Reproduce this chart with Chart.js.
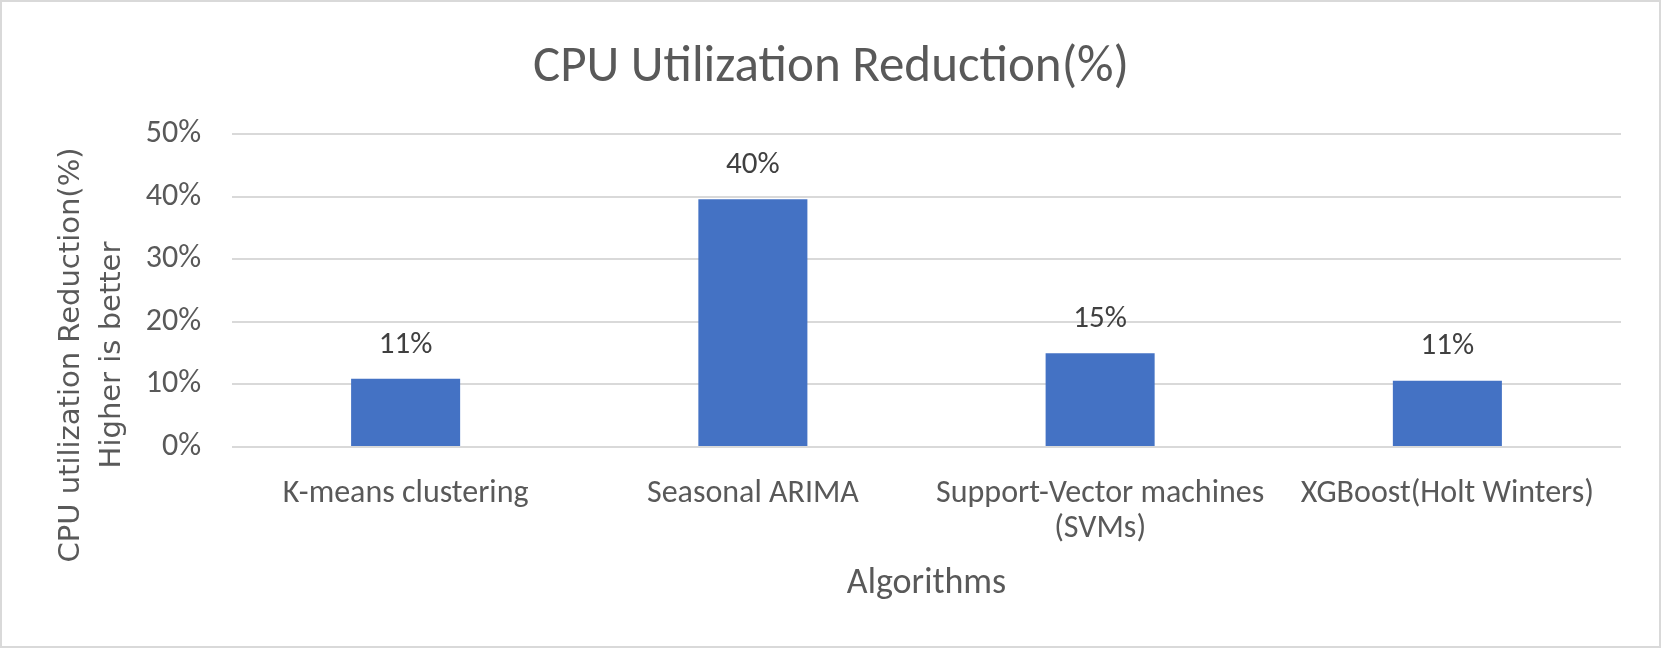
<!DOCTYPE html>
<html>
<head>
<meta charset="utf-8">
<script src="https://cdn.jsdelivr.net/npm/chart.js@4/dist/chart.umd.min.js"></script>
<style>
  html, body { margin: 0; padding: 0; background: #fff; }
  canvas { display: block; }
</style>
</head>
<body>
<canvas id="cpuChart" width="1662" height="650"></canvas>
<script>
// data (percent)
const algorithms = [
  'K-means clustering',
  'Seasonal ARIMA',
  ['Support-Vector machines', '(SVMs)'],
  'XGBoost(Holt Winters)'
];
const reduction = [10.9, 39.6, 15.0, 10.6];
const valueLabels = ['11%', '40%', '15%', '11%'];

const yTitleLines = ['CPU utilization Reduction(%)', 'Higher is better'];

const BAR_COLOR = '#4472C4';
const TEXT_COLOR = '#595959';
const GRID_COLOR = '#d9d9d9';
const FONT = "Carlito, Lato, 'Open Sans', sans-serif";

// white background + thin grey frame
const framePlugin = {
  id: 'frame',
  beforeDraw(chart) {
    const ctx = chart.ctx;
    ctx.save();
    ctx.fillStyle = '#fff';
    ctx.fillRect(0, 0, chart.width, chart.height);
    ctx.strokeStyle = GRID_COLOR;
    ctx.lineWidth = 2;
    ctx.strokeRect(1, 1, chart.width - 3, chart.height - 4);
    ctx.restore();
  }
};

// value labels on top of bars
const barLabels = {
  id: 'barLabels',
  afterDatasetsDraw(chart) {
    const ctx = chart.ctx;
    const meta = chart.getDatasetMeta(0);
    ctx.save();
    ctx.font = '31px ' + FONT;
    ctx.fillStyle = '#404040';
    ctx.textAlign = 'center';
    ctx.textBaseline = 'middle';
    meta.data.forEach((bar, i) => {
      ctx.fillText(valueLabels[i], bar.x, bar.y - 34);
    });
    ctx.restore();
  }
};

// two-line rotated y-axis title (Excel style, not centred on plot)
const yTitle = {
  id: 'yTitle',
  afterDraw(chart) {
    const ctx = chart.ctx;
    ctx.save();
    ctx.font = "29px 'DejaVu Sans', sans-serif";
    ctx.fillStyle = TEXT_COLOR;
    ctx.textAlign = 'center';
    ctx.textBaseline = 'middle';
    ctx.translate(0, 355);
    ctx.rotate(-Math.PI / 2);
    ctx.fillText(yTitleLines[0], 0, 71);
    ctx.fillText(yTitleLines[1], 0, 112);
    ctx.restore();
  }
};

new Chart(document.getElementById('cpuChart').getContext('2d'), {
  type: 'bar',
  data: {
    labels: algorithms,
    datasets: [{
      label: 'CPU Utilization Reduction(%)',
      data: reduction,
      backgroundColor: BAR_COLOR,
      borderWidth: 0,
      categoryPercentage: 1,
      barPercentage: 0.314
    }]
  },
  options: {
    responsive: false,
    animation: false,
    devicePixelRatio: 1,
    layout: { padding: 0 },
    plugins: {
      legend: { display: false },
      tooltip: { enabled: false },
      title: {
        display: true,
        text: 'CPU Utilization Reduction(%)',
        color: TEXT_COLOR,
        font: { family: FONT, size: 51, weight: 'normal' },
        padding: { top: 38, bottom: 35 }
      }
    },
    scales: {
      x: {
        grid: { display: false, drawTicks: false },
        border: { display: false },
        ticks: {
          color: TEXT_COLOR,
          font: { family: FONT, size: 32, lineHeight: 1.1 },
          padding: 29,
          maxRotation: 0,
          autoSkip: false
        },
        title: {
          display: true,
          text: 'Algorithms',
          color: TEXT_COLOR,
          font: { family: FONT, size: 36 },
          padding: { top: 0, bottom: 44 }
        },
        afterFit(scale) { scale.height = 650 - 447; }
      },
      y: {
        min: 0,
        max: 50,
        ticks: {
          stepSize: 10,
          color: TEXT_COLOR,
          font: { family: FONT, size: 32 },
          padding: 31,
          callback: v => v + '%'
        },
        grid: { color: GRID_COLOR, lineWidth: 2, drawTicks: false },
        border: { display: false },
        afterFit(scale) { scale.width = 232; }
      },
      // empty right margin so the title stays centred on the whole chart
      yRight: {
        position: 'right',
        grid: { display: false, drawTicks: false },
        border: { display: false },
        ticks: { display: false },
        afterFit(scale) { scale.width = 41; }
      }
    }
  },
  plugins: [framePlugin, barLabels, yTitle]
});
</script>
</body>
</html>
